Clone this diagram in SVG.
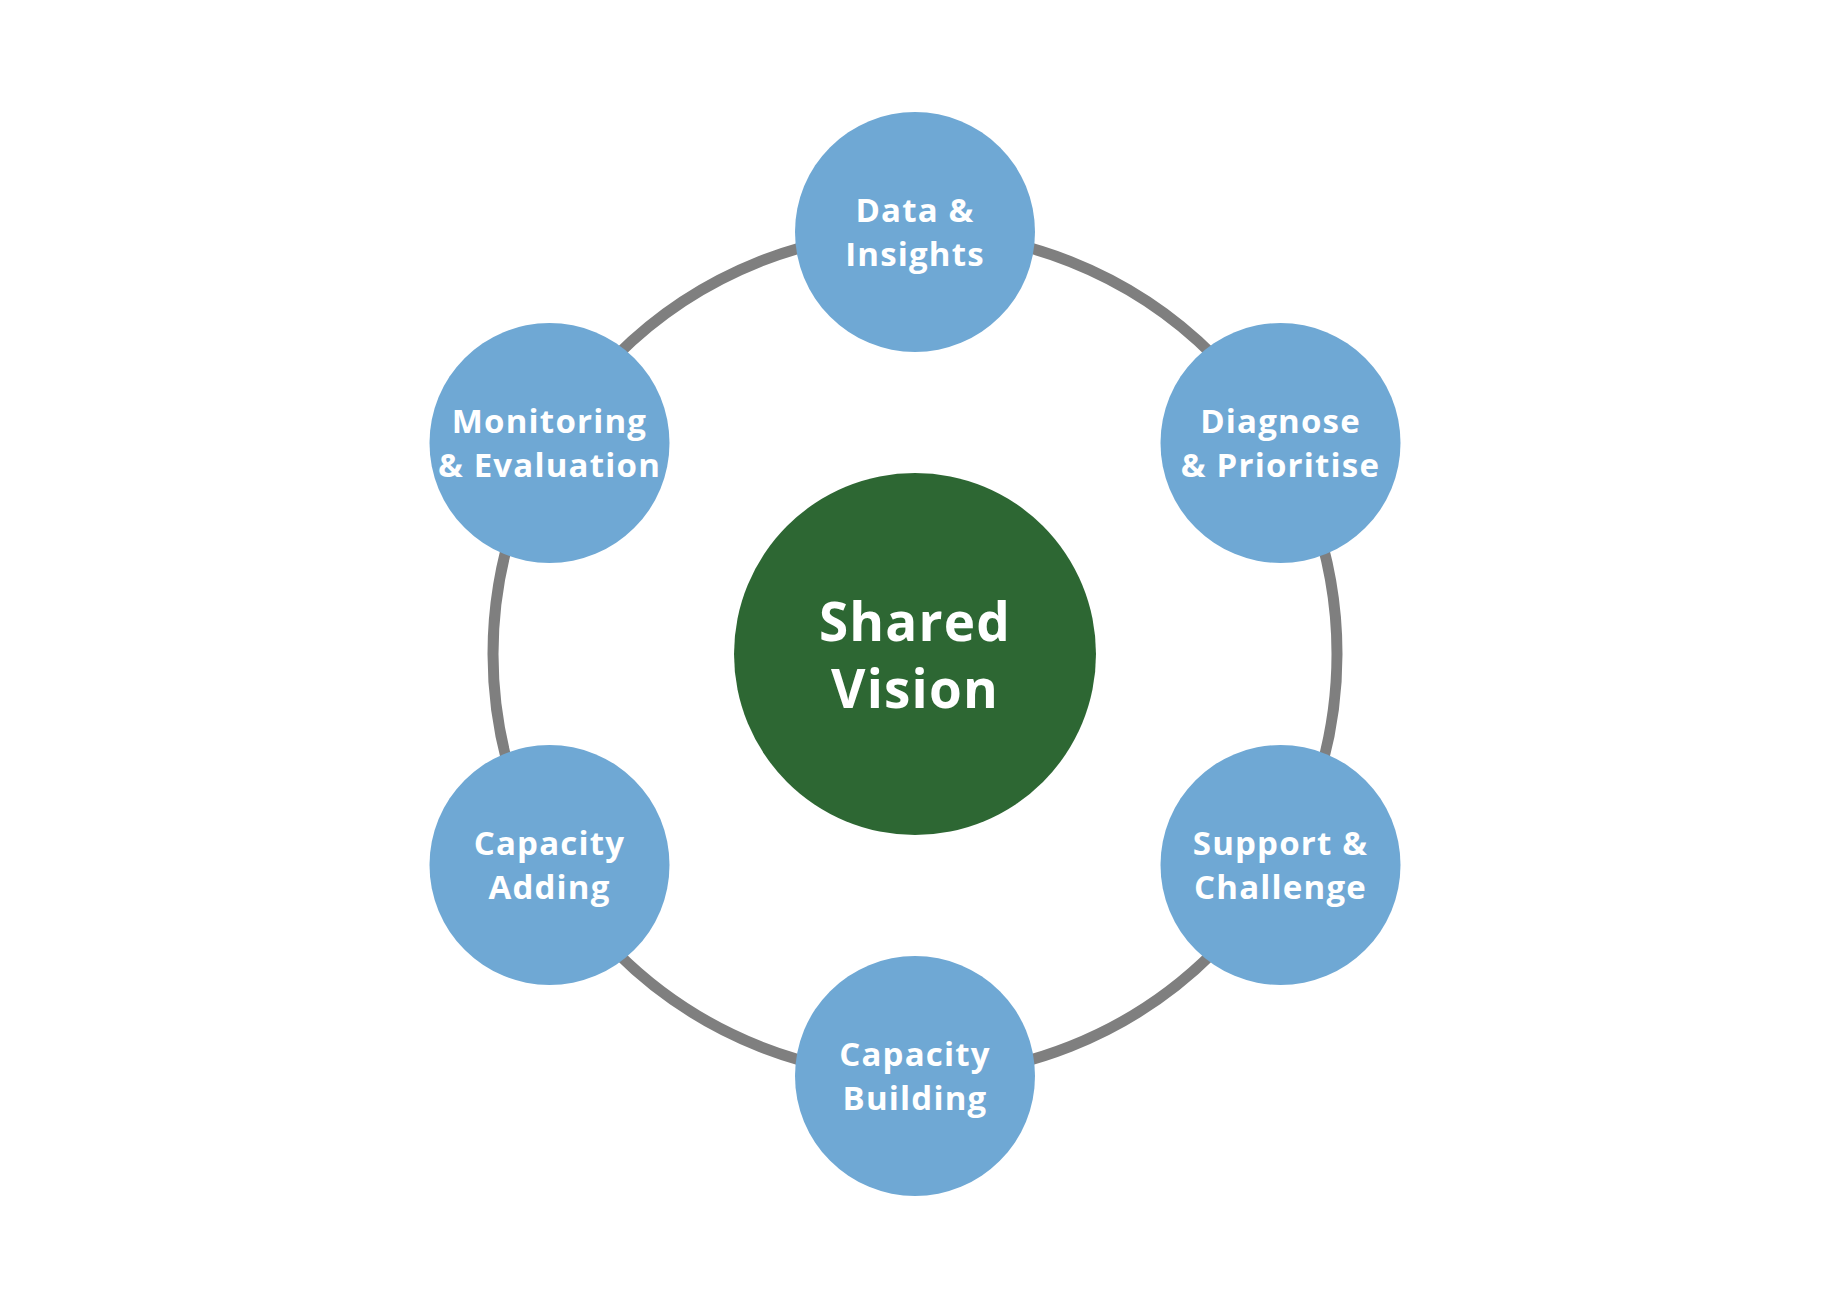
<svg xmlns="http://www.w3.org/2000/svg" width="1833" height="1312" viewBox="0 0 1833 1312">
<style>
.node{fill:#6FA8D4;}
.lbl{font-family:"Open Sans",Lato,"Liberation Sans",sans-serif;font-weight:700;font-size:33px;fill:#FFFFFF;text-anchor:middle;letter-spacing:1.2px;}
.big{font-family:"Open Sans",Lato,"Liberation Sans",sans-serif;font-weight:700;font-size:53px;fill:#FFFFFF;text-anchor:middle;letter-spacing:1.2px;}
</style>
<rect width="1833" height="1312" fill="#FFFFFF"/>
<g id="connectors">
<circle cx="915" cy="654" r="422" fill="none" stroke="#7F7F7F" stroke-width="11"/>
</g>
<g id="center">
<circle cx="915" cy="654" r="181" fill="#2D6733"/>
<text class="big" x="915" y="641">Shared</text>
<text class="big" x="915" y="708">Vision</text>
</g>
<g id="data-insights">
<circle class="node" cx="915" cy="232" r="120"/>
<text class="lbl" x="915" y="222">Data &amp;</text>
<text class="lbl" x="915" y="266">Insights</text>
</g>
<g id="diagnose-prioritise">
<circle class="node" cx="1280.5" cy="443" r="120"/>
<text class="lbl" x="1280.5" y="433">Diagnose</text>
<text class="lbl" x="1280.5" y="477">&amp; Prioritise</text>
</g>
<g id="support-challenge">
<circle class="node" cx="1280.5" cy="865" r="120"/>
<text class="lbl" x="1280.5" y="855">Support &amp;</text>
<text class="lbl" x="1280.5" y="899">Challenge</text>
</g>
<g id="capacity-building">
<circle class="node" cx="915" cy="1076" r="120"/>
<text class="lbl" x="915" y="1066">Capacity</text>
<text class="lbl" x="915" y="1110">Building</text>
</g>
<g id="capacity-adding">
<circle class="node" cx="549.5" cy="865" r="120"/>
<text class="lbl" x="549.5" y="855">Capacity</text>
<text class="lbl" x="549.5" y="899">Adding</text>
</g>
<g id="monitoring-evaluation">
<circle class="node" cx="549.5" cy="443" r="120"/>
<text class="lbl" x="549.5" y="433">Monitoring</text>
<text class="lbl" x="549.5" y="477">&amp; Evaluation</text>
</g>
</svg>
